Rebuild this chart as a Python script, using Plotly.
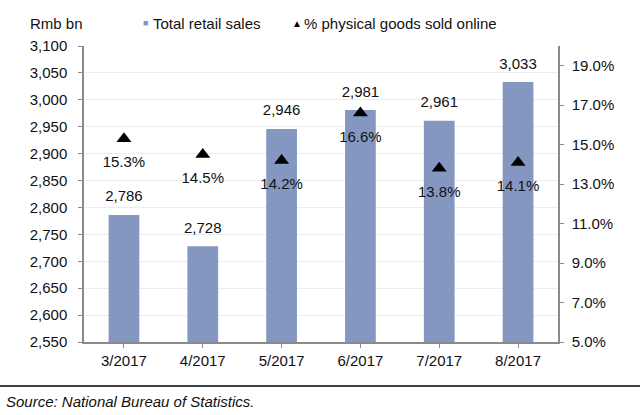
import plotly.graph_objects as go

months = ["3/2017", "4/2017", "5/2017", "6/2017", "7/2017", "8/2017"]
retail_sales = [2786, 2728, 2946, 2981, 2961, 3033]
pct_online = [15.3, 14.5, 14.2, 16.6, 13.8, 14.1]
left_ticks = list(range(2550, 3101, 50))
right_ticks = [5, 7, 9, 11, 13, 15, 17, 19]

FONT = "Liberation Sans, Arial, sans-serif"
FS = 15
BAR_COLOR = "#8497c1"
W, H = 640, 415
L, R, T, B = 84, 82, 46, 73
pw, ph = W - L - R, H - T - B


def px_x(x):
    return (x - L) / pw


def px_y(y):
    return (H - B - y) / ph


fig = go.Figure()
fig.add_trace(go.Bar(
    x=months, y=retail_sales, name="Total retail sales",
    marker=dict(color=BAR_COLOR, line=dict(width=0)),
    width=0.39, showlegend=False,
))
fig.add_trace(go.Scatter(
    x=months, y=retail_sales, mode="markers+text", showlegend=False,
    marker=dict(size=14, color="rgba(0,0,0,0)"),
    text=[f"{v:,}" for v in retail_sales], textposition="top center",
    textfont=dict(size=FS, color="#111", family=FONT), hoverinfo="skip",
    cliponaxis=False,
))
fig.add_trace(go.Scatter(
    x=months, y=pct_online, name="% physical goods sold online", yaxis="y2",
    mode="markers", marker=dict(symbol="triangle-up", size=13, color="black"),
    showlegend=False,
))
fig.add_trace(go.Scatter(
    x=months, y=pct_online, yaxis="y2", mode="markers+text", showlegend=False,
    marker=dict(size=26, color="rgba(0,0,0,0)"),
    text=[f"{v:.1f}%" for v in pct_online], textposition="bottom center",
    textfont=dict(size=FS, color="#111", family=FONT), hoverinfo="skip",
))

axis_line = dict(showline=True, linecolor="#8a8a8a", linewidth=1.5,
                 ticks="outside", ticklen=4, tickcolor="#8a8a8a")
fig.update_layout(
    width=W, height=H,
    margin=dict(l=L, r=R, t=T, b=B),
    paper_bgcolor="white", plot_bgcolor="white",
    font=dict(family=FONT, size=FS, color="#111"),
    showlegend=False,
    xaxis=dict(**axis_line, tickfont=dict(size=FS), showgrid=False),
    yaxis=dict(**axis_line, range=[2550, 3100], tickvals=left_ticks,
               tickformat=",d", showgrid=True, gridcolor="#ececec",
               gridwidth=1, tickfont=dict(size=FS), ticklabelstandoff=8),
    yaxis2=dict(**axis_line, overlaying="y", side="right", range=[5, 20],
                tickvals=right_ticks, ticktext=[f"{v:.1f}%" for v in right_ticks],
                showgrid=False, tickfont=dict(size=FS), ticklabelstandoff=5),
    annotations=[
        dict(text="Rmb bn", xref="paper", yref="paper",
             x=px_x(28), y=px_y(23), xanchor="left", yanchor="middle",
             showarrow=False, font=dict(size=FS)),
        dict(text="■", xref="paper", yref="paper",
             x=px_x(145), y=px_y(23), xanchor="center", yanchor="middle",
             showarrow=False, font=dict(size=9, color=BAR_COLOR)),
        dict(text="Total retail sales", xref="paper", yref="paper",
             x=px_x(151), y=px_y(23), xanchor="left", yanchor="middle",
             showarrow=False, font=dict(size=FS)),
        dict(text="▲", xref="paper", yref="paper",
             x=px_x(297), y=px_y(23), xanchor="center", yanchor="middle",
             showarrow=False, font=dict(size=10, color="black")),
        dict(text="% physical goods sold online", xref="paper", yref="paper",
             x=px_x(302), y=px_y(23), xanchor="left", yanchor="middle",
             showarrow=False, font=dict(size=FS)),
        dict(text="<i>Source: National Bureau of Statistics.</i>", xref="paper", yref="paper",
             x=px_x(4), y=px_y(401), xanchor="left", yanchor="middle",
             showarrow=False, font=dict(size=FS)),
    ],
    shapes=[dict(type="line", xref="paper", yref="paper",
                 x0=px_x(0), x1=px_x(W), y0=px_y(386), y1=px_y(386),
                 line=dict(color="black", width=1.5))],
)
fig.write_html("out.html")
